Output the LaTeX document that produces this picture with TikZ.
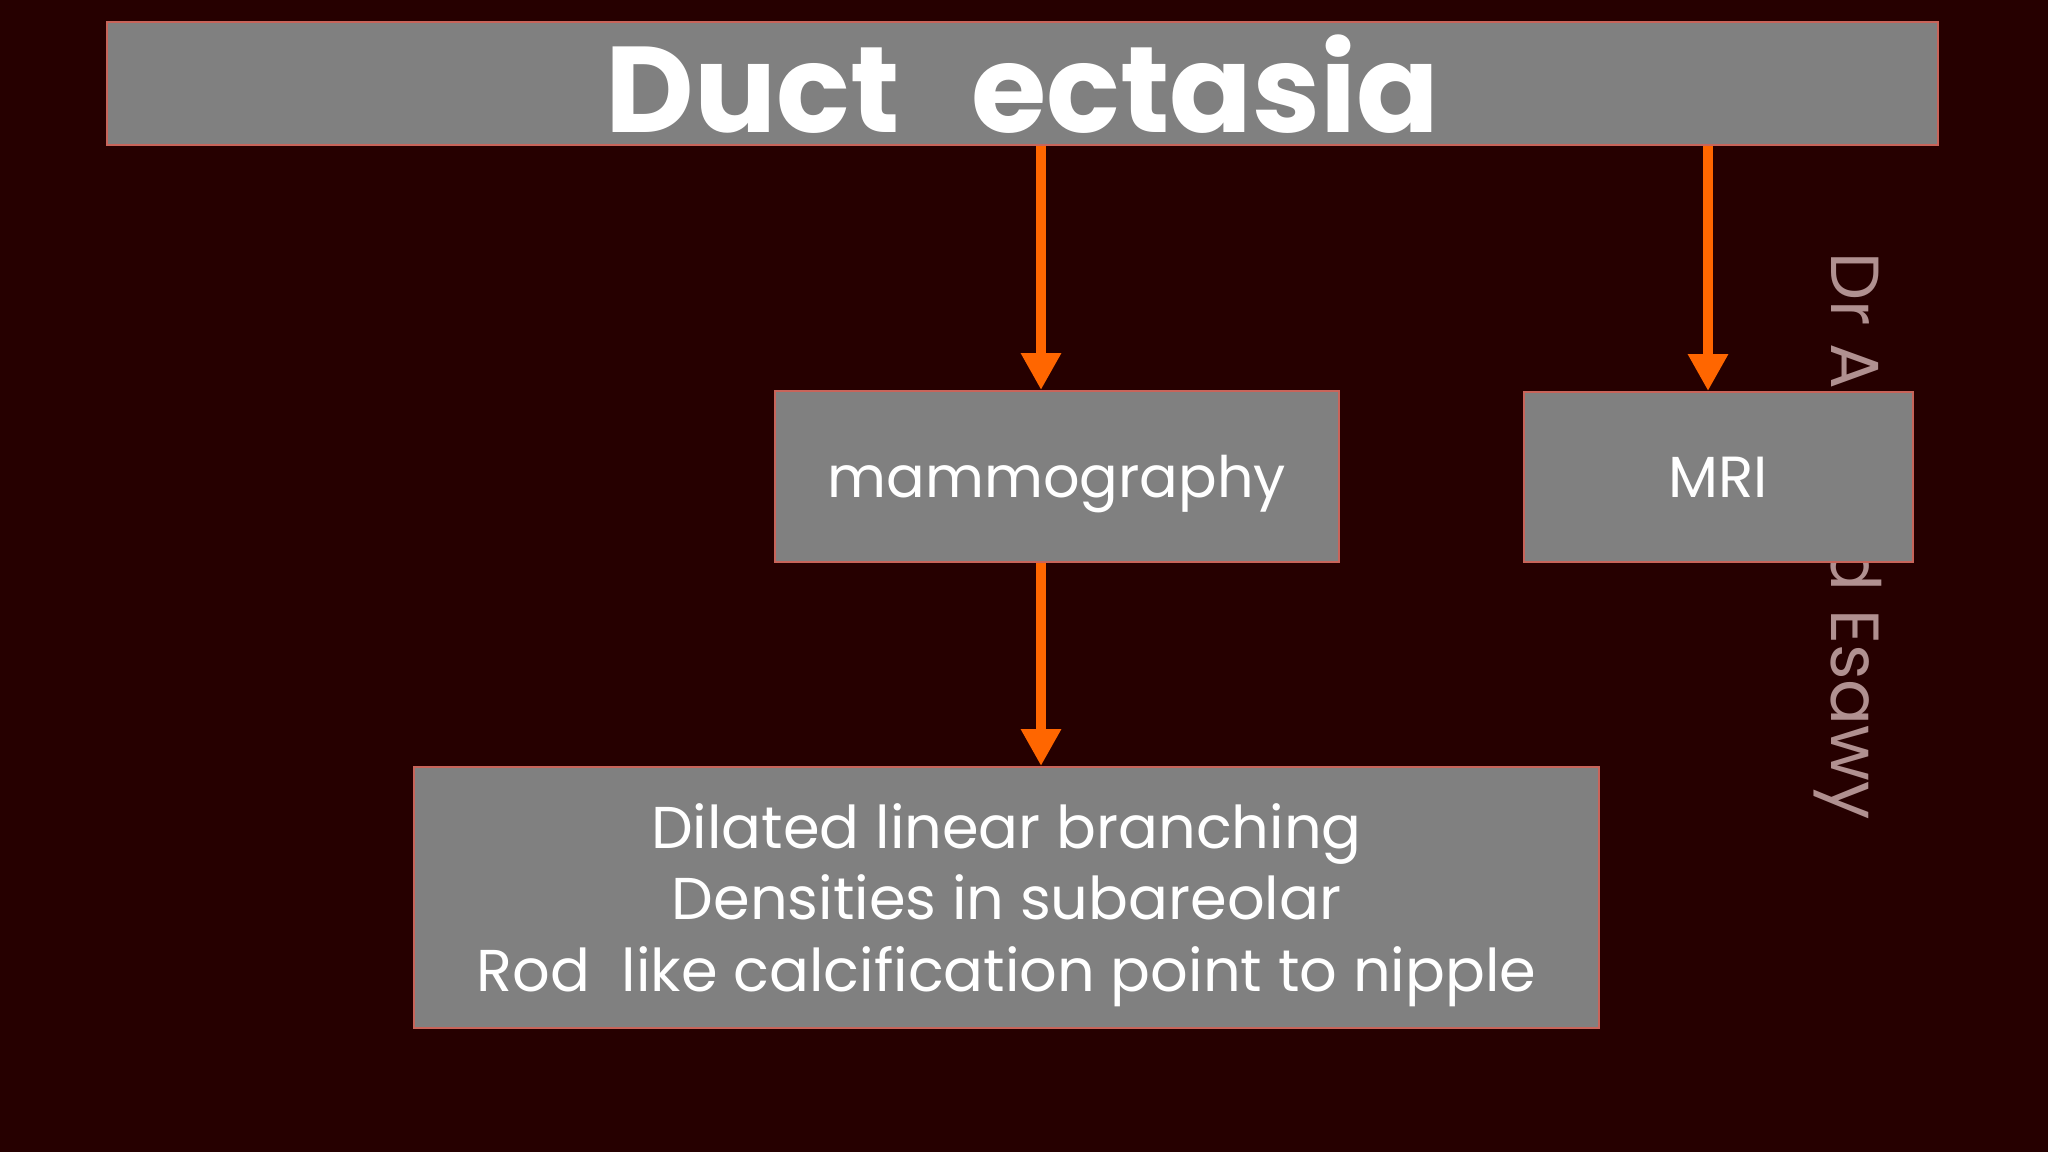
\documentclass[tikz,border=0pt]{standalone}
\usepackage{fontspec}
\setmainfont{Poppins}
\usetikzlibrary{arrows.meta}
\definecolor{slide}{RGB}{38,0,0}
\definecolor{boxfill}{RGB}{128,128,128}
\definecolor{boxline}{RGB}{200,100,90}
\definecolor{flow}{RGB}{255,102,0}
\definecolor{mark}{RGB}{176,144,144}
\tikzset{
    % Grey slide box
    box/.style={
        draw=boxline,
        fill=boxfill,
        line width=1pt,
        text=white,
        inner sep=0pt,
        text depth=0pt,
        align=center,
    },
    % Orange connector
    arr/.style={
        draw=flow,
        line width=5pt,
        -{Triangle[width=19pt,length=18.5pt]},
    },
}

\begin{document}
\begin{tikzpicture}[x=0.5pt,y=-0.5pt]
    % Slide background
    \fill[slide] (0,0) rectangle (2048,1152);
    \useasboundingbox (0,0) rectangle (2048,1152);

    % Watermark
    \node[text=mark, rotate=-90, font=\fontsize{34}{40}\selectfont] (sign) at (1848,536) {Dr Ahmed Esawy};

    \node[box, minimum width=915.5pt, minimum height=61.5pt, font=\fontsize{61}{70}\selectfont\bfseries] (title) at (1022.5,83.5) {Duct\ \hspace{10pt}\ ectasia};
    \node[box, minimum width=282pt, minimum height=85.5pt, font=\fontsize{28.6}{34}\selectfont] (mammo) at (1057,476.5) {mammography};
    \node[box, minimum width=194.5pt, minimum height=85pt, font=\fontsize{29}{34}\selectfont] (mri) at (1718.5,477) {MRI};
    \node[box, minimum width=592.5pt, minimum height=130.5pt, font=\fontsize{29.5}{35.75}\selectfont] (detail) at (1006.5,897.5)
        {Dilated linear branching\\Densities in subareolar\\Rod\ \ like calcification point to nipple};

    % Connectors
    \coordinate (mtop) at ([xshift=-8pt]mammo.north);
    \coordinate (rtop) at ([xshift=-5.25pt]mri.north);
    \draw[arr] (mtop |- title.south) -- (mtop);
    \draw[arr] (rtop |- title.south) -- (rtop);
    \draw[arr] (mtop |- mammo.south) -- (mtop |- detail.north);
\end{tikzpicture}
\end{document}
